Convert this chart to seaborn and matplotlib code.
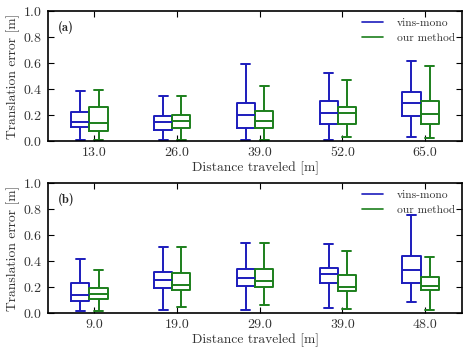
import numpy as np
import pandas as pd
import matplotlib
matplotlib.use('Agg')
import matplotlib.pyplot as plt
from matplotlib.lines import Line2D
import seaborn as sns

# five-number summaries: [min, q1, median, q3, max]
dist_a = ['13.0', '26.0', '39.0', '52.0', '65.0']
vins_a = [[0.01, 0.108, 0.148, 0.22, 0.387],
          [0.005, 0.085, 0.146, 0.19, 0.35],
          [0.008, 0.10, 0.20, 0.295, 0.59],
          [0.008, 0.13, 0.213, 0.305, 0.525],
          [0.033, 0.19, 0.292, 0.38, 0.618]]
ours_a = [[0.005, 0.075, 0.14, 0.26, 0.392],
          [0.005, 0.10, 0.151, 0.20, 0.35],
          [0.008, 0.097, 0.154, 0.233, 0.425],
          [0.03, 0.13, 0.213, 0.264, 0.467],
          [0.02, 0.128, 0.208, 0.31, 0.58]]

dist_b = ['9.0', '19.0', '29.0', '39.0', '48.0']
vins_b = [[0.013, 0.093, 0.14, 0.227, 0.418],
          [0.02, 0.189, 0.253, 0.315, 0.51],
          [0.02, 0.206, 0.27, 0.338, 0.537],
          [0.042, 0.227, 0.30, 0.35, 0.53],
          [0.088, 0.232, 0.328, 0.44, 0.756]]
ours_b = [[0.013, 0.104, 0.15, 0.196, 0.33],
          [0.046, 0.175, 0.214, 0.305, 0.51],
          [0.06, 0.20, 0.25, 0.338, 0.537],
          [0.034, 0.168, 0.199, 0.294, 0.477],
          [0.023, 0.176, 0.209, 0.278, 0.43]]

methods = ['vins-mono', 'our method']
colors = ['#1c1cbc', '#1c7f1c']


def to_long(dists, vins, ours):
    rows = []
    for d, v, o in zip(dists, vins, ours):
        for val in v:
            rows.append((d, methods[0], val))
        for val in o:
            rows.append((d, methods[1], val))
    return pd.DataFrame(rows, columns=['dist', 'method', 'err'])


sns.set_style('ticks')
plt.rcParams['font.family'] = ['cmr10', 'DejaVu Serif']
plt.rcParams['axes.formatter.use_mathtext'] = True
plt.rcParams['mathtext.fontset'] = 'cm'
plt.rcParams['xtick.direction'] = 'in'
plt.rcParams['ytick.direction'] = 'in'
plt.rcParams['xtick.top'] = True
plt.rcParams['ytick.right'] = True
plt.rcParams['axes.linewidth'] = 1.2
plt.rcParams['axes.edgecolor'] = 'black'

fig = plt.figure(figsize=(4.74, 3.51), dpi=100)
ax_a = fig.add_axes([48 / 474, 1 - 141 / 351, 414 / 474, 130 / 351])
ax_b = fig.add_axes([48 / 474, 1 - 313 / 351, 414 / 474, 130 / 351])

panels = [(ax_a, dist_a, vins_a, ours_a, '(a)'),
          (ax_b, dist_b, vins_b, ours_b, '(b)')]

for ax, dists, vins, ours, tag in panels:
    df = to_long(dists, vins, ours)
    sns.boxplot(data=df, x='dist', y='err', hue='method', order=dists,
                hue_order=methods, palette=colors, fill=False, width=0.44,
                gap=0, whis=(0, 100), linewidth=1.4, legend=False, ax=ax)
    ax.set_xlim(-0.5, 4.5)
    ax.set_ylim(0, 1.0)
    ax.set_xticks(np.arange(len(dists)) + 0.055, dists)
    ax.set_yticks(np.arange(0, 1.01, 0.2))
    ax.tick_params(axis='both', labelsize=10, length=4, width=0.8,
                   colors='black', labelcolor='#333333', pad=4)
    ax.set_xlabel('Distance traveled [m]', fontsize=9.8, color='#333333', labelpad=2)
    ax.set_ylabel('Translation error [m]', fontsize=9.8, color='#333333', labelpad=2)
    ax.text(0.025, 0.85, tag, transform=ax.transAxes, fontsize=9,
            family=['cmb10', 'DejaVu Serif'])
    handles = [Line2D([], [], color=c, lw=1.2) for c in colors]
    ax.legend(handles, methods, loc='upper right', frameon=False, fontsize=8.3,
              handlelength=1.8, handletextpad=1.2, labelspacing=0.45,
              borderaxespad=0.3, borderpad=0.3, labelcolor='#333333')
    for s in ax.spines.values():
        s.set_visible(True)

fig.savefig('out.png', dpi=100)
